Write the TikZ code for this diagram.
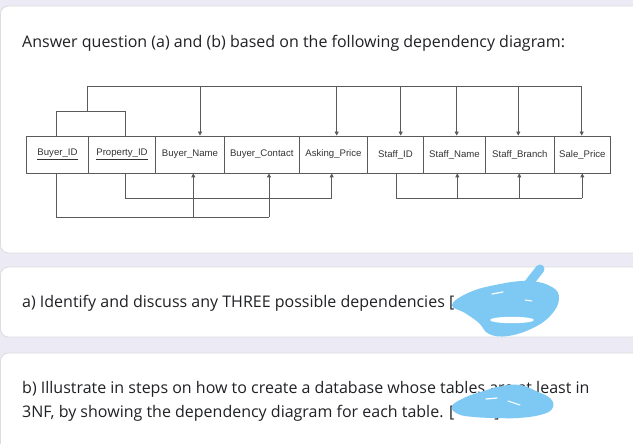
\documentclass[tikz,border=0pt]{standalone}
\usepackage{fontspec}
\setmainfont{Open Sans}
\newfontfamily\cellfont{Liberation Sans}
\usetikzlibrary{arrows.meta}
\definecolor{bgc}{HTML}{ECEAF4}
\definecolor{cardline}{HTML}{DADCE0}
\definecolor{txt}{HTML}{202124}
\definecolor{dline}{HTML}{5A5A5A}
\definecolor{blob}{HTML}{7DC9F4}
\tikzset{
  card/.style={fill=white,draw=cardline,line width=0.8pt,rounded corners=8pt},
  qtext/.style={anchor=base west,inner sep=0pt,text=txt,font=\fontsize{16}{19}\selectfont},
  cell/.style={draw=dline,line width=0.8pt,minimum height=37pt,inner sep=0pt,font=\cellfont\fontsize{9.6}{11}\selectfont,text=black!80},
  link/.style={draw=dline,line width=0.8pt},
  arr/.style={link,-{Triangle[length=4pt,width=4pt]}},
}
\begin{document}
\begin{tikzpicture}[x=1pt,y=-1pt]
\fill[bgc] (0,0) rectangle (633,444);
\useasboundingbox (0,0) rectangle (633,444);
% cards
\path[card] (0.5,6) rectangle (650,253);
\path[card] (0.5,267) rectangle (650,337);
\path[card] (0.5,353) rectangle (650,470);
% texts
\node[qtext] (q0) at (22,47.5) {Answer question (a) and (b) based on the following dependency diagram:};
\node[qtext] (qa) at (22,307.5) {a) Identify and discuss any THREE possible dependencies [\hspace{55pt}]};
\node[qtext] (qb1) at (22,393.5) {b) Illustrate in steps on how to create a database whose tables are at least in};
\node[qtext] (qb2) at (22,417.5) {3NF, by showing the dependency diagram for each table. [\hspace{40pt}]};
% cells
\node[cell,minimum width=61.6pt] (c1) at (57.5,154.5) {\underline{Buyer\_ID}};
\node[cell,minimum width=67.4pt] (c2) at (122,154.5) {\underline{Property\_ID}};
\node[cell,minimum width=68.6pt] (c3) at (190,154.5) {Buyer\_Name};
\node[cell,minimum width=75pt] (c4) at (261.8,154.5) {Buyer\_Contact};
\node[cell,minimum width=68.4pt] (c5) at (333.5,154.5) {Asking\_Price};
\node[cell,minimum width=55.6pt] (c6) at (395.5,154.5) {Staff\_ID};
\node[cell,minimum width=62.4pt] (c7) at (454.5,154.5) {Staff\_Name};
\node[cell,minimum width=68.3pt] (c8) at (519.85,154.5) {Staff\_Branch};
\node[cell,minimum width=56.7pt] (c9) at (582.35,154.5) {Sale\_Price};
% top connectors
\coordinate (t1) at (56.7,111);
\coordinate (t2) at (125.7,111);
\coordinate (tm) at (87.7,111);
\coordinate (tt) at (87.7,86);
\coordinate (a3) at (200,86);
\coordinate (a5) at (336.7,86);
\coordinate (a6) at (400.7,86);
\coordinate (a7) at (456.7,86);
\coordinate (a8) at (518.3,86);
\coordinate (a9) at (581.7,86);
\draw[link] (c1.north -| t1) -- (t1) -- (t2) -- (c2.north -| t2);
\draw[link] (tm) -- (tt) -- (a9);
\draw[arr] (a3) -- (c3.north -| a3);
\draw[arr] (a5) -- (c5.north -| a5);
\draw[arr] (a6) -- (c6.north -| a6);
\draw[arr] (a7) -- (c7.north -| a7);
\draw[arr] (a8) -- (c8.north -| a8);
\draw[arr] (a9) -- (c9.north -| a9);
% bottom connectors
\coordinate (b1) at (56.7,217.3);
\coordinate (b1m) at (193.3,217.3);
\coordinate (b1e) at (269,217.3);
\draw[link] (c1.south -| b1) -- (b1) -- (b1e);
\draw[arr] (b1m) -- (c3.south -| b1m);
\draw[arr] (b1e) -- (c4.south -| b1e);
\coordinate (p1) at (125.7,198.3);
\coordinate (p1e) at (331.7,198.3);
\draw[link] (c2.south -| p1) -- (p1) -- (p1e);
\draw[arr] (p1e) -- (c5.south -| p1e);
\coordinate (s1) at (396.7,198.3);
\coordinate (s1a) at (457.3,198.3);
\coordinate (s1b) at (519.3,198.3);
\coordinate (s1e) at (582.3,198.3);
\draw[link] (c6.south -| s1) -- (s1) -- (s1e);
\draw[arr] (s1a) -- (c7.south -| s1a);
\draw[arr] (s1b) -- (c8.south -| s1b);
\draw[arr] (s1e) -- (c9.south -| s1e);
% scribble 1
\fill[blob] plot[smooth cycle,tension=0.7] coordinates {(452,305) (468,293) (495,285) (528,281) (552,287) (559,299) (551,315) (533,328) (508,336) (489,334) (479,323) (465,313)};
\draw[blob,line width=9pt,line cap=round] (522,292) -- (540,269);
\fill[white] (512,320) ellipse [x radius=22, y radius=3.2];
\draw[white,line width=1.2pt,line cap=round] (492,294) -- (503,292);
\draw[white,line width=1pt,line cap=round] (525,300) -- (532,301);
% scribble 2
\fill[blob] plot[smooth cycle,tension=0.7] coordinates {(452,406) (466,397) (484,391) (502,386) (520,385) (536,391) (551,399) (552,409) (540,415) (518,418) (496,418) (474,417) (458,414)};
\draw[white,line width=1.2pt,line cap=round] (486,399) -- (497,398);
\draw[white,line width=1pt,line cap=round] (508,401) -- (520,405);
\end{tikzpicture}
\end{document}
